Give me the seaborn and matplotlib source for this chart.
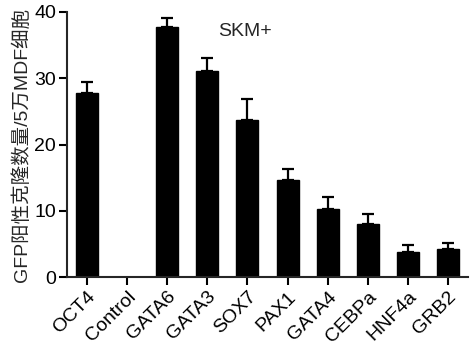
import matplotlib
matplotlib.use("Agg")
import matplotlib.pyplot as plt
import seaborn as sns
import pandas as pd
import numpy as np

categories = ["OCT4", "Control", "GATA6", "GATA3", "SOX7", "PAX1", "GATA4", "CEBPa", "HNF4a", "GRB2"]
values = [27.8, 0.0, 37.8, 31.1, 23.7, 14.6, 10.2, 8.0, 3.7, 4.3]
errors = [1.6, 0.0, 1.3, 2.0, 3.1, 1.7, 1.9, 1.5, 1.1, 0.9]
yticks = [0, 10, 20, 30, 40]
ylabel = "GFP阳性克隆数量/5万MDF细胞"
annotation = "SKM+"

sns.set_theme(style="ticks")
plt.rcParams['font.family'] = ['Liberation Sans', 'Noto Sans CJK SC', 'DejaVu Sans']

df = pd.DataFrame({"gene": categories, "value": values})

fig = plt.figure(figsize=(4.74, 3.49), dpi=100)
ax = fig.add_axes([67/474, 1-277/349, (468-67)/474, (277-12)/349])

sns.barplot(data=df, x="gene", y="value", order=categories, color="black",
            saturation=1, width=0.55, errorbar=None, ax=ax, edgecolor="black")
x = np.arange(len(categories))
mask = np.array(errors) > 0
ax.errorbar(x[mask], np.array(values)[mask], yerr=[np.zeros(mask.sum()), np.array(errors)[mask]],
            fmt="none", ecolor="black", elinewidth=1.6, capsize=4.5, capthick=1.6, zorder=1)

ax.set_xlim(-0.5, len(categories) - 0.5)
ax.set_ylim(0, 40)
ax.set_yticks(yticks)
ax.set_xlabel("")
ax.set_ylabel(ylabel, fontsize=14, labelpad=2)
sns.despine(ax=ax)
for s in ["left", "bottom"]:
    ax.spines[s].set_linewidth(1.5)
ax.tick_params(axis="both", width=1.5, length=6, labelsize=14, color="black", labelcolor="black", pad=2)
plt.setp(ax.get_xticklabels(), rotation=45, ha="right", rotation_mode="anchor")
ax.text(3.94, 37.1, annotation, fontsize=14, ha="center", va="center")

fig.savefig("out.png", dpi=100)
